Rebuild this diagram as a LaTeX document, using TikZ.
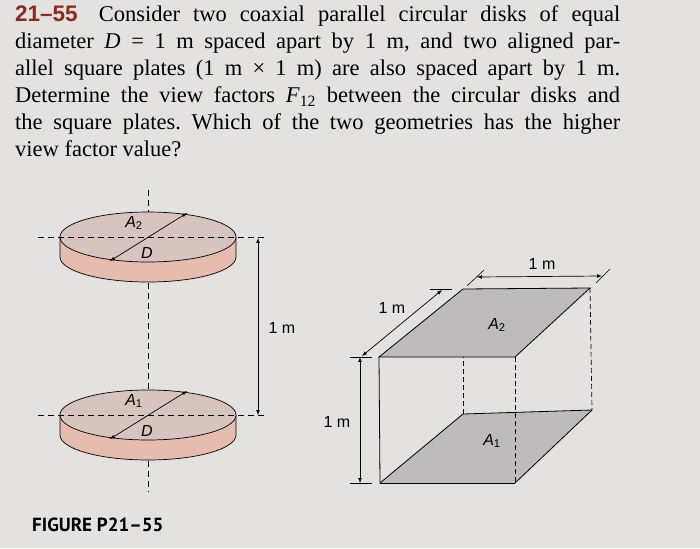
\documentclass[tikz,border=0pt]{standalone}
\usepackage{fontspec}
\setmainfont{Liberation Serif}
\setsansfont{Liberation Sans}
\newfontfamily\capfont{PT Sans}
\frenchspacing
\begin{document}
\begin{tikzpicture}[x=1pt,y=-1pt,
  txt/.style={anchor=base west,inner sep=0pt,font=\fontsize{22.5}{22.5}\selectfont},
  lbl/.style={font=\sffamily\fontsize{16}{16}\selectfont,inner sep=1pt},
  axis/.style={dashed,dash pattern=on 6pt off 4pt,line width=0.7pt},
  dim/.style={line width=0.7pt,<->,>=latex},
  topface/.style={fill=topc,draw=black,line width=0.7pt},
  sideface/.style={fill=sidec,draw=black,line width=0.7pt},
  plate/.style={fill=platec,draw=black,line width=0.8pt}]
\definecolor{bg}{HTML}{E4E2E0}
\definecolor{topc}{HTML}{D8C4BE}
\definecolor{sidec}{HTML}{E6BCAE}
\definecolor{platec}{HTML}{BDBBBC}
\definecolor{numc}{HTML}{8B2A1E}
\fill[bg] (0,0) rectangle (700,548);
\useasboundingbox (0,0) rectangle (700,548);
% text
\node[txt] (l1) at (15,22) {\makebox[605pt][s]{\textcolor{numc}{\sffamily\bfseries 21–55}\hspace{8pt} Consider two coaxial parallel circular disks of equal}};
\node[txt] (l2) at (15,49) {\makebox[605pt][s]{diameter \textit{D} = 1 m spaced apart by 1 m, and two aligned par-}};
\node[txt] (l3) at (15,76) {\makebox[605pt][s]{allel square plates (1 m × 1 m) are also spaced apart by 1 m.}};
\node[txt] (l4) at (15,103) {\makebox[605pt][s]{Determine the view factors \textit{F}\textsubscript{12} between the circular disks and}};
\node[txt] (l5) at (15,130) {\makebox[605pt][s]{the square plates. Which of the two geometries has the higher}};
\node[txt] (l6) at (15,157) {view factor value?};
% disks
\foreach \cy/\nm in {237/2,415/1}{
  \draw[sideface] (60,\cy) -- (60,\cy+20) arc[start angle=180,end angle=0,x radius=88,y radius=25] -- (236,\cy) -- cycle;
  \draw[topface] (148,\cy) ellipse[x radius=88,y radius=25];
  \draw[axis] (38,\cy) -- (265,\cy);
  \draw[dim] (110,\cy+24) -- (187,\cy-24);
  \node[lbl] at (134,\cy-14) {\textit{A}\textsubscript{\nm}};
  \node[lbl] at (147,\cy+16) {\textit{D}};
}
\draw[axis] (148,190) -- (148,212);
\draw[axis] (148,283) -- (148,390);
\draw[axis] (148,461) -- (148,492);
\coordinate (d1) at (258,238); \coordinate (d2) at (258,415);
\draw[dim] (d1) -- (d2);
\node[lbl] (dl) at (282,328) {1 m};
% plates
\coordinate (tbl) at (463,289); \coordinate (tbr) at (590,288);
\coordinate (tfr) at (515,357); \coordinate (tfl) at (379,357);
\coordinate (bfl) at (380,483); \coordinate (bfr) at (515,483);
\coordinate (bbr) at (592,410); \coordinate (bbl) at (463,414);
\fill[platec] (bfl) -- (bfr) -- (bbr) -- (bbl) -- cycle;
\draw[line width=0.8pt] (bfl) -- (bfr); \draw[line width=0.8pt] (bbl) -- (bbr);
\draw[line width=0.8pt] (bfl) -- (bbl); \draw[line width=0.8pt] (bfr) -- (bbr);
\draw[axis,dash pattern=on 5pt off 3pt] (tbl) -- (bbl);
\draw[axis,dash pattern=on 5pt off 3pt] (tbr) -- (bbr);
\draw[axis,dash pattern=on 5pt off 3pt] (tfr) -- (bfr);
\draw[line width=0.8pt] (tfl) -- (bfl);
\draw[plate] (tbl) -- (tbr) -- (tfr) -- (tfl) -- cycle;
\node[lbl] at (497,325) {\textit{A}\textsubscript{2}};
\node[lbl] at (492,441) {\textit{A}\textsubscript{1}};
% dimensions on cube
\coordinate (v1) at (360,357); \coordinate (v2) at (360,483);
\draw[line width=0.6pt] (350,357) -- (372,357); \draw[line width=0.6pt] (350,483) -- (372,483);
\draw[dim] (v1) -- (v2);
\node[lbl] at (337,422) {1 m};
\coordinate (s1) at (362,356); \coordinate (s2) at (442,290);
\draw[line width=0.6pt] (430,289) -- (452,289);
\draw[dim] (s1) -- (s2);
\node[lbl] at (392,308) {1 m};
\coordinate (h1) at (477,277); \coordinate (h2) at (602,276);
\draw[line width=0.6pt] (467,286) -- (484,270); \draw[line width=0.6pt] (596,283) -- (610,269);
\draw[dim] (h1) -- (h2);
\node[lbl] at (542,264) {1 m};
% caption
\node[anchor=base west,inner sep=0pt,font=\capfont\bfseries\fontsize{19}{19}\selectfont] (cap) at (32,531) {FIGURE P21–55};
\end{tikzpicture}
\end{document}
